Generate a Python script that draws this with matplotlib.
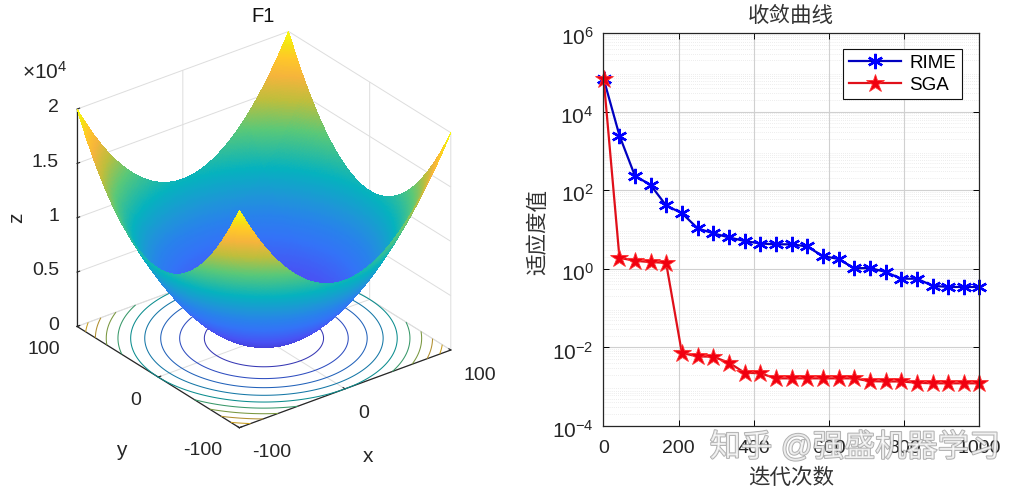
import numpy as np
import matplotlib
matplotlib.use('Agg')
import matplotlib.pyplot as plt
from matplotlib.colors import LinearSegmentedColormap, Normalize
from matplotlib.transforms import ScaledTranslation
import matplotlib.patheffects as pe

plt.rcParams['font.family'] = ['Liberation Sans', 'Noto Sans CJK SC', 'DejaVu Sans']
plt.rcParams['mathtext.fontset'] = 'custom'
plt.rcParams['mathtext.rm'] = 'Liberation Sans'
plt.rcParams['mathtext.default'] = 'regular'
plt.rcParams['axes.unicode_minus'] = False

iterations = [1, 43, 84, 126, 167, 209, 251, 292, 334, 376, 417, 459, 501, 542, 584, 626, 667, 709, 751, 792, 834, 876, 917, 959, 1000]
rime = [6.8e4, 2450, 234, 135, 41, 26, 10.7, 8, 6.3, 5.1, 4.4, 4.2, 4.2, 3.7, 2.1, 1.78, 1.03, 1.05, 0.83, 0.56, 0.56, 0.37, 0.345, 0.345, 0.345]
sga = [6.8e4, 1.9, 1.6, 1.48, 1.42, 0.0072, 0.0059, 0.0058, 0.0041, 0.00226, 0.0022, 0.00163, 0.00163, 0.00163, 0.00163, 0.00163, 0.00163, 0.00138, 0.00136, 0.00136, 0.00126, 0.00122, 0.00122, 0.00122, 0.00122]
surface_ticks = [-100, 0, 100]
z_ticks = [0, 5000, 10000, 15000, 20000]
z_tick_labels = ['0', '0.5', '1', '1.5', '2']
contour_levels = [2000, 4000, 6000, 8000, 10000, 12000, 14000, 16000, 18000]

parula_stops = [(0.00, (66, 50, 200)), (0.143, (72, 82, 244)), (0.25, (51, 115, 247)),
                (0.32, (40, 130, 235)), (0.39, (30, 150, 215)), (0.487, (5, 178, 190)),
                (0.63, (90, 200, 120)), (0.74, (190, 190, 60)), (0.83, (245, 180, 60)),
                (0.90, (255, 200, 40)), (0.95, (245, 225, 20)), (1.00, (249, 251, 20))]
parula = LinearSegmentedColormap.from_list('parula', [(p, tuple(v / 255 for v in c)) for p, c in parula_stops])
parula_dark = LinearSegmentedColormap.from_list('parula_dark', [(p, tuple(0.78 * v / 255 for v in c)) for p, c in parula_stops])

W, H = 1009, 487
fig = plt.figure(figsize=(W / 100, H / 100), dpi=100)

# ---- surface panel
ax = fig.add_axes([38 / W, 31.5 / H, 440 / W, 440 / H], projection='3d',
                  proj_type='ortho', computed_zorder=False)
ax.patch.set_alpha(0)
ax.view_init(elev=28.6, azim=-127.5)
ax.set_box_aspect((267, 267, 248), zoom=0.995)
gx = np.linspace(-100, 100, 301)
X, Y = np.meshgrid(gx, gx)
Z = X ** 2 + Y ** 2
norm = Normalize(0, 20000)
ax.contour(X, Y, Z, levels=contour_levels, zdir='z', offset=0, cmap=parula_dark, norm=norm,
           linewidths=0.75, zorder=1)
ax.plot_surface(X, Y, Z, facecolors=parula(norm(Z)), rstride=1, cstride=1, shade=False,
                linewidth=0, antialiased=False, zorder=2)
ax.set_xlim(-100, 100); ax.set_ylim(-100, 100); ax.set_zlim(0, 20000)
ax.set_xticks(surface_ticks); ax.set_yticks(surface_ticks)
ax.set_zticks(z_ticks); ax.set_zticklabels(z_tick_labels)
ax.tick_params(axis='both', labelsize=14, colors='#262626', pad=5)
ax.tick_params(axis='z', pad=0)
for t in ax.get_xticklabels():
    t.set_ha('left'); t.set_va('center')
for t in ax.get_yticklabels():
    t.set_ha('right'); t.set_va('center')
for t in ax.get_zticklabels():
    t.set_ha('right'); t.set_va('center')
for a in (ax.xaxis, ax.yaxis, ax.zaxis):
    a.set_pane_color((1, 1, 1, 0))
    a.pane.set_edgecolor('#dddddd')
    a._axinfo['grid'].update(color='#dddddd', linewidth=0.7)
    a._axinfo['tick'].update(inward_factor=0.0, outward_factor=0.15)
    a.line.set_color('#262626')
    a.line.set_linewidth(0.9)
tr = fig.transFigure
ax.text2D(368 / W, 1 - 456 / H, 'x', transform=tr, fontsize=15, ha='center', va='center', color='#262626')
ax.text2D(121 / W, 1 - 450 / H, 'y', transform=tr, fontsize=15, ha='center', va='center', color='#262626')
ax.text2D(17 / W, 1 - 218 / H, 'z', transform=tr, fontsize=15, ha='center', va='center', rotation=90, color='#262626')
fig.text(263 / W, 1 - 17 / H, 'F1', fontsize=14.5, ha='center', va='center', color='#111111')
fig.text(45 / W, 1 - 72 / H, r'$\times 10^{4}$', fontsize=15, ha='center', va='center', color='#262626')

# ---- convergence panel
ax2 = fig.add_axes([603.3 / W, 1 - 426 / H, 376 / W, 393 / H])
ax2.semilogy(iterations, rime, color='#0000c0', lw=1.6, marker=(6, 2, 0), ms=11, mew=1.7,
             mec='#0000ff', label='RIME', clip_on=False)
ax2.semilogy(iterations, sga, color='#e0101a', lw=1.6, marker='*', ms=13.5, mew=0.6,
             mec='#ff3030', mfc='#f00010', label='SGA', clip_on=False)
ax2.set_xlim(0, 1000); ax2.set_ylim(1e-4, 1e6)
ax2.set_xticks([0, 200, 400, 600, 800, 1000])
ax2.set_yticks([1e-4, 1e-2, 1, 1e2, 1e4, 1e6])
ax2.yaxis.set_minor_locator(matplotlib.ticker.LogLocator(base=10, subs=range(2, 10), numticks=20))
ax2.yaxis.set_minor_formatter(matplotlib.ticker.NullFormatter())
ax2.grid(True, which='major', color='#d0d0d0', lw=0.8)
ax2.grid(True, which='minor', axis='y', color='#dcdcdc', lw=0.5, ls=(0, (1, 2)))
ax2.set_axisbelow(True)
ax2.tick_params(which='major', direction='in', top=True, right=True, length=4, width=0.7,
                labelsize=14, labelcolor='#262626')
ax2.tick_params(axis='x', pad=10)
ax2.tick_params(axis='y', labelsize=15, pad=7)
ax2.tick_params(which='minor', length=0)
for t in ax2.get_yticklabels():
    t.set_transform(t.get_transform() + ScaledTranslation(0, -3 / 100, fig.dpi_scale_trans))
for s in ax2.spines.values():
    s.set_linewidth(0.9); s.set_color('#262626')
leg = ax2.legend(loc='upper left', bbox_to_anchor=(239.7 / 376, 1 - 16 / 393), borderaxespad=0,
                 fancybox=False, framealpha=1, edgecolor='#111111', fontsize=13.5,
                 borderpad=0.3, labelspacing=0.25, handlelength=2.8, handletextpad=0.45)
leg.get_frame().set_linewidth(0.8)
fig.text(791 / W, 1 - 17 / H, '收敛曲线', fontsize=15.5, ha='center', va='center', color='#333333')
fig.text(791 / W, 1 - 478 / H, '迭代次数', fontsize=15.5, ha='center', va='center', color='#333333')
fig.text(539 / W, 1 - 232 / H, '适应度值', fontsize=15.5, ha='center', va='center', rotation=90, color='#333333')

# ---- watermark
fig.text(855 / W, 1 - 448 / H, '知乎 @强盛机器学习', fontsize=22.5, ha='center', va='center',
         color=(1, 1, 1, 0.7),
         path_effects=[pe.withStroke(linewidth=1.3, foreground=(0.55, 0.55, 0.55, 0.7))])

fig.savefig('out.png', dpi=100)
